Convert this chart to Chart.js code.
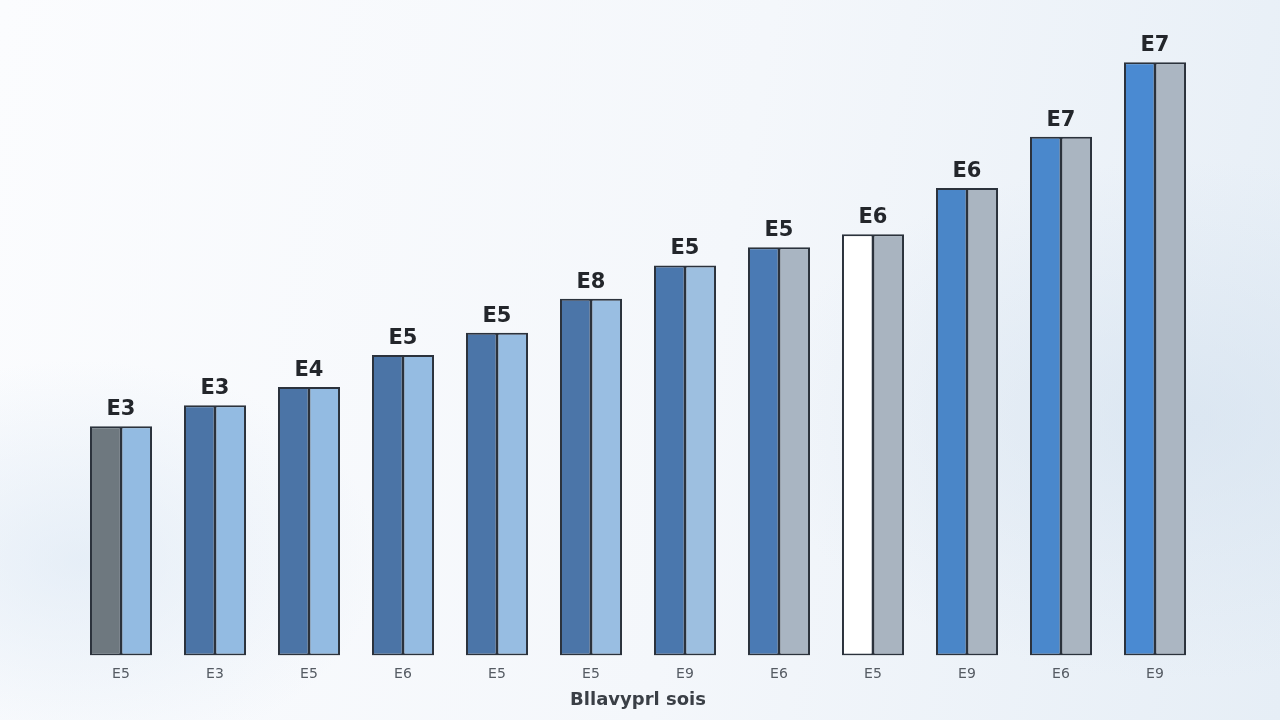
<!DOCTYPE html>
<html>
<head>
<meta charset="utf-8">
<script src="https://cdn.jsdelivr.net/npm/chart.js@4.4.1/dist/chart.umd.min.js"></script>
<style>
  html, body { margin: 0; padding: 0; }
  body {
    width: 1280px; height: 720px; overflow: hidden;
    background:
      radial-gradient(ellipse 300px 200px at 80px 560px, rgba(214,228,242,.55), transparent),
      radial-gradient(ellipse 420px 260px at 1180px 420px, rgba(210,224,238,.6), transparent),
      linear-gradient(100deg, #fbfcfe 0%, #f4f7fb 55%, #e6eef6 100%);
  }
  #wrap { position: relative; width: 1280px; height: 720px; }
</style>
</head>
<body>
<div id="wrap"><canvas id="chart" width="1280" height="720"></canvas></div>
<script>
// ── 데이터 ──
const categories = ['E5', 'E3', 'E5', 'E6', 'E5', 'E5', 'E9', 'E6', 'E5', 'E9', 'E6', 'E9'];
const topLabels  = ['E3', 'E3', 'E4', 'E5', 'E5', 'E8', 'E5', 'E5', 'E6', 'E6', 'E7', 'E7'];
const seriesA    = [22.8, 24.9, 26.7, 29.9, 32.1, 35.5, 38.8, 40.6, 41.9, 46.5, 51.6, 59.0];
const seriesB    = [22.8, 24.9, 26.7, 29.9, 32.1, 35.5, 38.8, 40.6, 41.9, 46.5, 51.6, 59.0];
const axisTitle  = 'Bllavyprl sois';

// 막대 색상
const colorsA = ['#6e787f', '#4b74a6', '#4b74a6', '#4b74a6', '#4b75a8', '#4b75a8', '#4a77ad',
                 '#4a7ab4', '#ffffff', '#4a86c8', '#4a88cc', '#4a8ad2'];
const colorsB = ['#93bbe2', '#93bbe2', '#93bbe2', '#95bce2', '#97bde2', '#99bee2', '#9dbfe0',
                 '#a9b5c2', '#a9b4c0', '#aab5c1', '#aab5c1', '#abb6c2'];

/** 그룹 상단 라벨 */
const groupLabels = {
  id: 'groupLabels',
  afterDatasetsDraw(chart) {
    const { ctx } = chart;
    const m0 = chart.getDatasetMeta(0).data;
    const m1 = chart.getDatasetMeta(1).data;
    ctx.save();
    ctx.font = 'bold 21px "DejaVu Sans", sans-serif';
    ctx.fillStyle = '#23262b';
    ctx.textAlign = 'center';
    ctx.textBaseline = 'bottom';
    topLabels.forEach((t, i) => {
      const x = (m0[i].x + m1[i].x) / 2;
      const y = Math.min(m0[i].y, m1[i].y) - 6;
      ctx.fillText(t, x, y);
    });
    ctx.restore();
  }
};

new Chart(document.getElementById('chart').getContext('2d'), {
  type: 'bar',
  data: {
    labels: categories,
    datasets: [
      {
        data: seriesA, backgroundColor: colorsA, borderColor: '#2b323c',
        borderWidth: { top: 2, left: 2, bottom: 2, right: 1.5 }, borderSkipped: false
      },
      {
        data: seriesB, backgroundColor: colorsB, borderColor: '#2b323c',
        borderWidth: { top: 2, left: 1.5, bottom: 2, right: 2 }, borderSkipped: false
      }
    ]
  },
  options: {
    responsive: false,
    animation: false,
    layout: { padding: { left: 74, right: 78, top: 2, bottom: 7 } },
    datasets: { bar: { barPercentage: 1.0, categoryPercentage: 0.66 } },
    plugins: { legend: { display: false }, tooltip: { enabled: false } },
    scales: {
      x: {
        grid: { display: false },
        border: { display: false },
        ticks: { color: '#555b63', padding: 2, font: { size: 14, family: 'DejaVu Sans' } },
        title: {
          display: true, text: axisTitle, color: '#3a3f46',
          padding: { top: 5, bottom: 2 },
          font: { size: 18, weight: 'bold', family: 'DejaVu Sans' }
        }
      },
      y: { display: false, min: 0, max: 65 }
    }
  },
  plugins: [groupLabels]
});
</script>
</body>
</html>
